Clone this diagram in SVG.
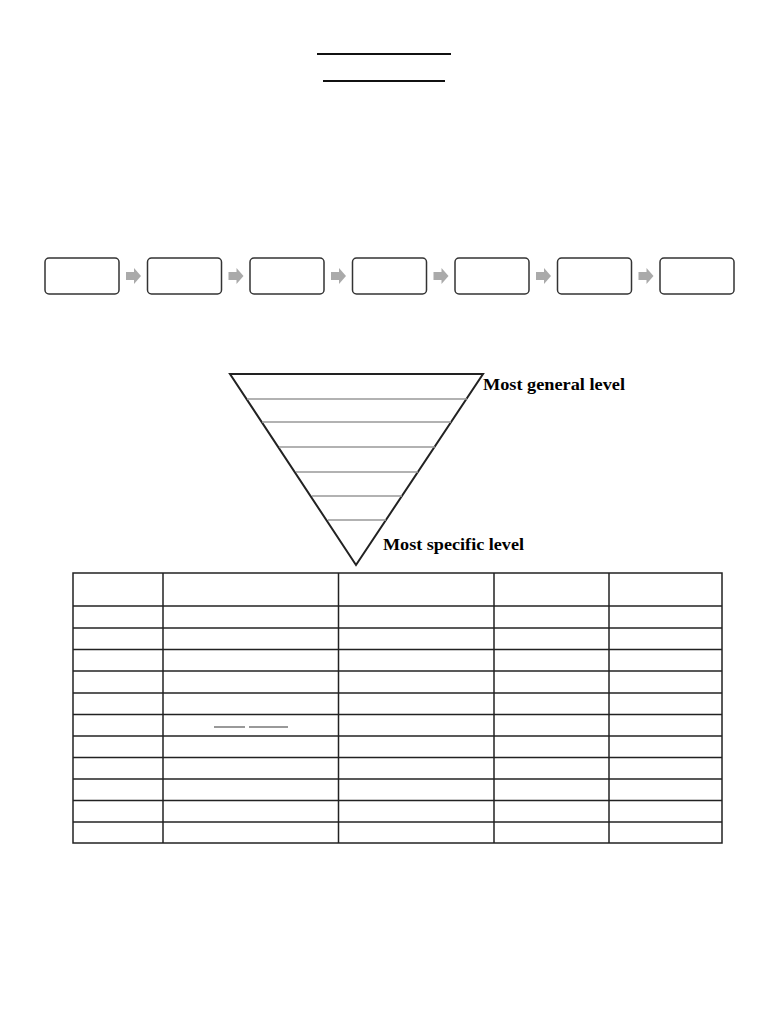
<svg xmlns="http://www.w3.org/2000/svg" width="768" height="1024" viewBox="0 0 768 1024">
<defs>
<style>
.box{fill:#fff;stroke:#333;stroke-width:1.5}
.arr{fill:#aaa}
.tri{fill:#fff;stroke:#222;stroke-width:2;stroke-linejoin:miter}
.lvl{stroke:#999;stroke-width:1.5}
.grid{stroke:#222;stroke-width:1.5;fill:none}
.lbl{font-family:"Liberation Serif","Times New Roman",serif;font-weight:bold;font-size:17px;fill:#000}
</style>
<path id="arrow" class="arr" d="M0,-4 L8,-4 L8,-8 L15,0 L8,8 L8,4 L0,4 Z"/>
</defs>
<rect width="768" height="1024" fill="#fff"/>
<g id="title">
<line x1="317" y1="54" x2="451" y2="54" stroke="#111" stroke-width="2"/>
<line x1="323" y1="81" x2="445" y2="81" stroke="#111" stroke-width="2"/>
</g>
<g id="flow-nodes">
<g id="box1"><rect class="box" x="45" y="258" width="74" height="36" rx="4"/></g>
<g id="box2"><rect class="box" x="147.5" y="258" width="74" height="36" rx="4"/></g>
<g id="box3"><rect class="box" x="250" y="258" width="74" height="36" rx="4"/></g>
<g id="box4"><rect class="box" x="352.5" y="258" width="74" height="36" rx="4"/></g>
<g id="box5"><rect class="box" x="455" y="258" width="74" height="36" rx="4"/></g>
<g id="box6"><rect class="box" x="557.5" y="258" width="74" height="36" rx="4"/></g>
<g id="box7"><rect class="box" x="660" y="258" width="74" height="36" rx="4"/></g>
</g>
<g id="connectors">
<use href="#arrow" x="126" y="276"/>
<use href="#arrow" x="228.5" y="276"/>
<use href="#arrow" x="331" y="276"/>
<use href="#arrow" x="433.5" y="276"/>
<use href="#arrow" x="536" y="276"/>
<use href="#arrow" x="638.5" y="276"/>
</g>
<g id="pyramid">
<polygon class="tri" points="230,374 483,374 356,565"/>
<line class="lvl" x1="247" y1="399" x2="467" y2="399"/>
<line class="lvl" x1="262" y1="422" x2="451" y2="422"/>
<line class="lvl" x1="279" y1="447" x2="435" y2="447"/>
<line class="lvl" x1="296" y1="472" x2="418" y2="472"/>
<line class="lvl" x1="312" y1="496" x2="402" y2="496"/>
<line class="lvl" x1="328" y1="520" x2="386" y2="520"/>
<text class="lbl" x="483" y="390" textLength="142" lengthAdjust="spacingAndGlyphs">Most general level</text>
<text class="lbl" x="383" y="550" textLength="141" lengthAdjust="spacingAndGlyphs">Most specific level</text>
</g>
<g id="table">
<rect class="grid" x="73" y="573" width="649" height="270"/>
<line class="grid" x1="163" y1="573" x2="163" y2="843"/>
<line class="grid" x1="338.5" y1="573" x2="338.5" y2="843"/>
<line class="grid" x1="494" y1="573" x2="494" y2="843"/>
<line class="grid" x1="609" y1="573" x2="609" y2="843"/>
<line class="grid" x1="73" y1="606" x2="722" y2="606"/>
<line class="grid" x1="73" y1="628" x2="722" y2="628"/>
<line class="grid" x1="73" y1="649.5" x2="722" y2="649.5"/>
<line class="grid" x1="73" y1="671" x2="722" y2="671"/>
<line class="grid" x1="73" y1="693" x2="722" y2="693"/>
<line class="grid" x1="73" y1="714.5" x2="722" y2="714.5"/>
<line class="grid" x1="73" y1="736" x2="722" y2="736"/>
<line class="grid" x1="73" y1="757.5" x2="722" y2="757.5"/>
<line class="grid" x1="73" y1="779" x2="722" y2="779"/>
<line class="grid" x1="73" y1="800.5" x2="722" y2="800.5"/>
<line class="grid" x1="73" y1="822" x2="722" y2="822"/>
<line x1="214" y1="727" x2="245" y2="727" stroke="#777" stroke-width="1.5"/>
<line x1="249" y1="727" x2="288" y2="727" stroke="#777" stroke-width="1.5"/>
</g>
</svg>
